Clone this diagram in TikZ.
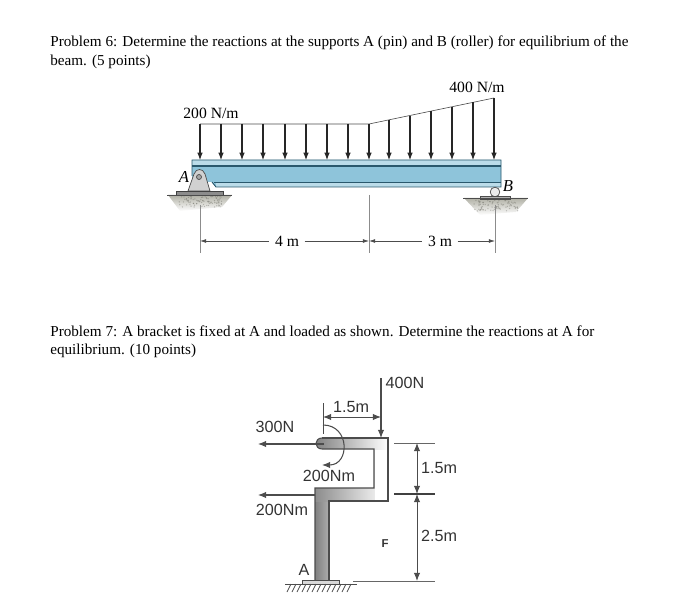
\documentclass[tikz,border=0pt]{standalone}
\usepackage{fontspec}
\usetikzlibrary{arrows.meta}
\setmainfont{Liberation Serif}
\newfontfamily\brfont{Liberation Sans}
\definecolor{beamblue}{RGB}{142,196,218}
\definecolor{beamedge}{RGB}{42,88,108}
\definecolor{soil}{RGB}{150,150,135}
\tikzset{
    prob/.style={anchor=west, inner sep=0pt, font=\fontsize{8.63}{10}\selectfont},
    load/.style={inner sep=0pt, font=\fontsize{8.9}{10}\selectfont},
    dimlab/.style={load, inner sep=3pt},
    brlab/.style={inner sep=0pt, text=black!80, font=\brfont\fontsize{9.2}{10}\selectfont},
    dimline/.style={black!70, line width=0.35pt},
    thin line/.style={black!45, line width=0.35pt},
    loadarrow/.style={black!85, line width=0.6pt, -{Latex[length=4.2pt,width=3.2pt]}},
    brarrow/.style={black!70, line width=0.6pt, -{Latex[length=4.6pt,width=3.6pt]}},
    brdim/.style={black!70, line width=0.55pt, {Latex[length=4.6pt,width=3.6pt]}-{Latex[length=4.6pt,width=3.6pt]}},
}
\begin{document}
\begin{tikzpicture}[x=0.02cm, y=-0.02cm]
    \useasboundingbox (0,0) rectangle (700,601);
    \pgfmathsetseed{6}

    % Problem texts
    \node[prob] (p6a) at (50,42.5) {Problem 6: Determine the reactions at the supports A (pin) and B (roller) for equilibrium of the};
    \node[prob] (p6b) at (50,61.5) {beam. (5 points)};
    \node[prob] (p7a) at (50,331) {Problem 7: A bracket is fixed at A and loaded as shown. Determine the reactions at A for};
    \node[prob] (p7b) at (50,351) {equilibrium. (10 points)};

    % Ground under the beam supports
    \shade[top color=soil!75, bottom color=white] (168,195) -- (232,195) -- (222,207) -- (180,211) -- cycle;
    \shade[top color=soil!75, bottom color=white] (464,198) -- (528,198) -- (516,212) -- (480,215) -- cycle;
    \foreach \i in {1,...,90} {
        \fill[soil!60!black, opacity=0.35] (178+rnd*44,196+rnd*11) circle (0.7);
        \fill[soil!60!black, opacity=0.35] (474+rnd*44,199+rnd*12) circle (0.7);
    }

    % Dimension lines of the beam
    \draw[thin line] (200,205) -- (200,253);
    \draw[thin line] (369,195) -- (369,253);
    \draw[thin line] (495,205) -- (495,253);
    \coordinate (d0) at (200,241);
    \coordinate (d1) at (369,241);
    \coordinate (d2) at (495,241);
    \node[dimlab] (four) at (287,241) {4 m};
    \node[dimlab] (three) at (440,241) {3 m};
    \draw[dimline, {Latex[length=3.5pt,width=2.2pt]}-] (d0) -- (four);
    \draw[dimline, -{Latex[length=3.5pt,width=2.2pt]}] (four) -- (d1);
    \draw[dimline, {Latex[length=3.5pt,width=2.2pt]}-] (d1) -- (three);
    \draw[dimline, -{Latex[length=3.5pt,width=2.2pt]}] (three) -- (d2);

    % Beam
    \fill[beamblue] (192,160) -- (501,160) -- (501,187) -- (216,187) -- (212,182) -- (192,182) -- cycle;
    \fill[beamblue!60] (192,160) rectangle (501,165);
    \fill[beamblue!60] (216,182) rectangle (501,187);
    \draw[beamedge, line width=0.7pt] (192,166) -- (501,166);
    \draw[beamedge, line width=0.5pt] (214,182) -- (501,182);
    \draw[beamedge, line width=0.5pt] (192,176) -- (192,160) -- (501,160) -- (501,187) -- (216,187) -- (212,182);

    % Pin at A
    \filldraw[fill=black!18, draw=black!70, line width=0.4pt] (188,191) -- (194,174)
        .. controls (196,168) and (203,168) .. (205,174) -- (210,191) -- cycle;
    \filldraw[fill=black!35, draw=black!70, line width=0.4pt] (199,177) circle (2.5);
    \filldraw[fill=black!45, draw=black!75, line width=0.4pt] (176,191) rectangle (223,195);
    \draw[black!70, line width=0.4pt] (167,195) -- (232,195);

    % Roller at B
    \filldraw[fill=black!8, draw=black!70, line width=0.4pt] (495,192) circle (4.8);
    \filldraw[fill=black!30, draw=black!70, line width=0.4pt] (480,196) rectangle (510,199);
    \draw[black!70, line width=0.4pt] (463,198) -- (528,198);

    % Distributed load
    \draw[black!70, line width=0.35pt] (200,124) -- (369,124) -- (494,98);
    \foreach \x in {200,221,242,263,285,306,327,348,369}
        \draw[loadarrow] (\x,124) -- (\x,160);
    \foreach \x/\y in {389/120,410/116,431/111.5,452/107,473/102.5,494/98}
        \draw[loadarrow] (\x,\y) -- (\x,160);

    \node[load] (w1) at (211,113) {200 N/m};
    \node[load] (w2) at (477,87) {400 N/m};
    \node[load, font=\itshape\fontsize{9.5}{10}\selectfont] (pinA) at (184,177) {A};
    \node[load, font=\itshape\fontsize{9.5}{10}\selectfont] (rolB) at (508,186) {B};

    % Bracket
    \shade[left color=black!50, right color=white]
        (322,438) -- (388,438) -- (388,501) -- (329,501) -- (329,488) -- (374,488) -- (374,449) -- (322,449)
        .. controls (314,449) and (314,438) .. (322,438) -- cycle;
    \shade[left color=black!50, right color=black!32] (315,488) rectangle (329,581);
    \shade[left color=black!45, right color=white] (315,488) rectangle (388,501);
    \fill[white] (375,450) rectangle (387,500);
    \draw[black!70, line width=0.6pt] (322,438) -- (388,438) -- (388,501) -- (329,501) -- (329,581);
    \draw[black!70, line width=0.6pt] (315,581) -- (315,488) -- (374,488) -- (374,449) -- (322,449)
        .. controls (314,449) and (314,438) .. (322,438);
    \fill[black!80] (323,444) circle (1.1);

    % Base of the bracket
    \filldraw[fill=black!15, draw=black!70, line width=0.5pt] (302,580) rectangle (339,584);
    \draw[black!70, line width=0.5pt] (285,584) -- (357,584);
    \foreach \x in {291,296,...,351}
        \draw[black!70, line width=0.4pt] (\x,584) -- ++(-4,8);

    % Forces
    \coordinate (pin) at (323,444);
    \coordinate (t300) at (258,444);
    \draw[brarrow] (pin) -- (t300);
    \coordinate (s200) at (315,495);
    \coordinate (t200) at (258,495);
    \draw[brarrow] (s200) -- (t200);
    \coordinate (s400) at (381,378);
    \coordinate (t400) at (381,438);
    \draw[brarrow] (s400) -- (t400);
    \draw[brarrow] (323,425) .. controls (350,425) and (350,465) .. (322,465);

    % Dimensions of the bracket
    \draw[thin line, black!70] (323,403) -- (323,434);
    \coordinate (a0) at (323,417);
    \coordinate (a1) at (381,417);
    \draw[brdim] (a0) -- (a1);
    \draw[black!60, line width=0.4pt] (394,443) -- (435,443);
    \draw[black!75, line width=0.7pt] (394,494) -- (435,494);
    \draw[black!60, line width=0.4pt] (353,581) -- (435,581);
    \coordinate (b0) at (417,443);
    \coordinate (b1) at (417,494);
    \coordinate (b2) at (417,581);
    \draw[brdim] (b0) -- (b1);
    \draw[brdim] (b1) -- (b2);

    % Bracket labels
    \node[brlab] (f400) at (405,383) {400N};
    \node[brlab] (f300) at (275,427) {300N};
    \node[brlab] (m200) at (329,476) {200Nm};
    \node[brlab] (f200) at (282,510) {200Nm};
    \node[brlab] (w15) at (351,407) {1.5m};
    \node[brlab] (h15) at (439,468) {1.5m};
    \node[brlab] (h25) at (439,536) {2.5m};
    \node[brlab, font=\brfont\bfseries\fontsize{6.5}{8}\selectfont] (forceF) at (385,544) {F};
    \node[brlab] (fixA) at (304,570) {A};
\end{tikzpicture}
\end{document}
